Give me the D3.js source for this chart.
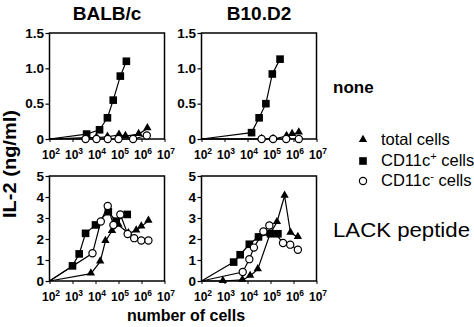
<!DOCTYPE html>
<html><head><meta charset="utf-8">
<script src="https://cdn.jsdelivr.net/npm/d3@7"></script>
<style>body{margin:0;background:#fff}svg{display:block}text{font-family:"Liberation Sans",Arial,sans-serif;fill:#000}</style>
</head><body>
<script>
// ---- data ----
const strains = ["BALB/c", "B10.D2"];
const conditions = ["none", "LACK peptide"];
const xTickExponents = [2, 3, 4, 5, 6, 7];
const topYTicks = [0, 0.5, 1.0, 1.5];
const topYTickLabels = ["0", "0.5", "1.0", "1.5"];
const bottomYTicks = [0, 1, 2, 3, 4, 5];
const bottomYTickLabels = ["0", "1", "2", "3", "4", "5"];
const seriesNames = ["total cells", "CD11c+ cells", "CD11c- cells"];

// [number of cells, IL-2 ng/ml]
const balbNoneTotal = [[100,0],[4e3,0.02],[1.1e4,0.02],[3.3e4,0.03],[1.05e5,0.06],[2e5,0.04],[7.5e5,0.07],[1.8e6,0.15]];
const balbNoneCD11cPos = [[100,0],[4.1e3,0.07],[1.5e4,0.13],[3.3e4,0.3],[5.9e4,0.55],[1.2e5,0.89],[2.2e5,1.1]];
const balbNoneCD11cNeg = [[100,0],[3.7e3,0],[1.1e4,0],[3.4e4,0],[1e5,0],[4.3e5,0],[1.7e6,0.05]];

const b10NoneTotal = [[100,0],[4.1e4,0],[1.3e5,0],[5e5,0.04],[8.7e5,0.07],[1.7e6,0.09]];
const b10NoneCD11cPos = [[100,0],[1.5e4,0.09],[3.2e4,0.3],[6.3e4,0.5],[1.2e5,0.92],[2.6e5,1.13]];
const b10NoneCD11cNeg = [[100,0],[4.1e4,0],[1.3e5,0],[4.8e5,0],[1.7e6,0]];

const balbLackTotal = [[100,0],[6.3e3,0.35],[1.6e4,0.92],[2.7e4,1.9],[5.2e4,2.38],[1e5,2.67],[2.7e5,2.27],[5.9e5,2.4],[9.8e5,2.59],[2e6,2.87]];
const balbLackCD11cPos = [[100,0],[1e3,0.72],[1.95e3,1.29],[3.7e3,2.27],[1e4,2.67],[3.6e4,3.3],[7.9e4,2.85],[2.4e5,3.17]];
const balbLackCD11cNeg = [[100,0],[7.4e3,1.32],[1.7e4,2.83],[3.4e4,3.57],[6e4,2.67],[1.2e5,3.17],[2.5e5,2.24],[4.8e5,2.04],[9.8e5,1.93],[2e6,1.93]];

const b10LackTotal = [[100,0],[8.5e2,0],[6e3,0.05],[1.3e4,0.24],[2.8e4,0.56],[9.5e4,2.24],[1.9e5,2.8],[4.1e5,4.06],[7.4e5,2.29],[1.55e6,2.09]];
const b10LackCD11cPos = [[100,0],[2.5e3,0.9],[4.8e3,1.25],[1.2e4,1.75],[3e4,2.1],[1e5,2.25],[2.1e5,2.25]];
const b10LackCD11cNeg = [[100,0],[6.2e3,0.43],[1.2e4,1.04],[1.9e4,1.59],[4.9e4,2.36],[8.9e4,2.64],[3.5e5,1.81],[7.2e5,1.73],[1.55e6,1.49]];

// ---- layout ----
const W = 474, H = 327;
const colX = [49.5, 201.5], panelW = 115;
const rowTop = [33, 176], rowBottom = [139, 281];

const panels = [
  {col:0,row:0,ymax:1.5,ticks:topYTicks,labels:topYTickLabels,series:[balbNoneTotal,balbNoneCD11cPos,balbNoneCD11cNeg]},
  {col:1,row:0,ymax:1.5,ticks:topYTicks,labels:topYTickLabels,series:[b10NoneTotal,b10NoneCD11cPos,b10NoneCD11cNeg]},
  {col:0,row:1,ymax:5,ticks:bottomYTicks,labels:bottomYTickLabels,series:[balbLackTotal,balbLackCD11cPos,balbLackCD11cNeg]},
  {col:1,row:1,ymax:5,ticks:bottomYTicks,labels:bottomYTickLabels,series:[b10LackTotal,b10LackCD11cPos,b10LackCD11cNeg]}
];

const svg = d3.select("body").append("svg").attr("width", W).attr("height", H);

const triSym = d3.symbol().type(d3.symbolTriangle).size(30);
const sqSym = d3.symbol().type(d3.symbolSquare).size(58);

function drawMarker(g, type, x, y) {
  if (type === 0) {
    g.append("path").attr("d", triSym()).attr("transform", `translate(${x},${y - 0.5})`).attr("fill", "#000");
  } else if (type === 1) {
    g.append("path").attr("d", sqSym()).attr("transform", `translate(${x},${y})`).attr("fill", "#000");
  } else {
    g.append("circle").attr("cx", x).attr("cy", y).attr("r", 3.6)
      .attr("fill", "#fff").attr("stroke", "#000").attr("stroke-width", 1.2);
  }
}

panels.forEach(p => {
  const x0 = colX[p.col], x1 = x0 + panelW;
  const y0 = rowTop[p.row], y1 = rowBottom[p.row];
  const x = d3.scaleLog().domain([1e2, 1e7]).range([x0, x1]);
  const y = d3.scaleLinear().domain([0, p.ymax]).range([y1, y0]);
  const g = svg.append("g");

  // y axis
  const yAxis = d3.axisLeft(y).tickValues(p.ticks).tickFormat((d, i) => p.labels[i]).tickSize(4).tickPadding(1.5);
  const ya = g.append("g").attr("transform", `translate(${x0},0)`).call(yAxis);
  ya.select(".domain").remove();
  ya.selectAll("line").attr("stroke", "#000").attr("stroke-width", 1.2);
  ya.selectAll("text").attr("font-size", 13.5).attr("font-weight", "bold").attr("font-family", '"Liberation Sans", Arial, sans-serif');

  // x axis
  const xAxis = d3.axisBottom(x).tickValues(xTickExponents.map(e => Math.pow(10, e))).tickFormat("").tickSize(3);
  const xa = g.append("g").attr("transform", `translate(0,${y1})`).call(xAxis);
  xa.select(".domain").remove();
  xa.selectAll("line").attr("stroke", "#000").attr("stroke-width", 1);
  xTickExponents.forEach(e => {
    const t = g.append("text").attr("x", x(Math.pow(10, e)) + 1.5).attr("y", y1 + 20)
      .attr("text-anchor", "middle").attr("font-weight", "bold").attr("font-size", 12);
    t.append("tspan").text("10");
    t.append("tspan").attr("font-size", 8.5).attr("dy", -5).text(String(e));
  });

  // frame
  g.append("rect").attr("x", x0).attr("y", y0).attr("width", x1 - x0).attr("height", y1 - y0)
    .attr("fill", "none").attr("stroke", "#000").attr("stroke-width", 1.5);

  // lines
  const line = d3.line().x(d => x(d[0])).y(d => y(d[1]));
  p.series.forEach(s => {
    g.append("path").attr("d", line(s)).attr("fill", "none").attr("stroke", "#000").attr("stroke-width", 1.2);
  });
  // markers (skip the origin point)
  p.series.forEach((s, si) => {
    s.slice(1).forEach(d => drawMarker(g, si, x(d[0]), y(d[1])));
  });
});

// column titles
strains.forEach((s, i) => {
  svg.append("text").attr("x", colX[i] + panelW / 2).attr("y", 20).attr("text-anchor", "middle")
    .attr("font-weight", "bold").attr("font-size", 19).text(s);
});

// row labels
svg.append("text").attr("x", 333).attr("y", 93).attr("font-weight", "bold").attr("font-size", 17).text(conditions[0]);
svg.append("text").attr("x", 333).attr("y", 237).attr("font-size", 20)
  .attr("textLength", 137).attr("lengthAdjust", "spacingAndGlyphs").text(conditions[1]);

// y label
svg.append("text").attr("transform", "translate(16,164) rotate(-90)").attr("text-anchor", "middle")
  .attr("font-weight", "bold").attr("font-size", 18).attr("textLength", 108).attr("lengthAdjust", "spacingAndGlyphs")
  .text("IL-2 (ng/ml)");

// x label
svg.append("text").attr("x", 186).attr("y", 321).attr("text-anchor", "middle")
  .attr("font-weight", "bold").attr("font-size", 16).text("number of cells");

// legend
const legY = [145, 166, 186];
const lg = svg.append("g");
seriesNames.forEach((name, i) => {
  drawMarker(lg, i, 363, legY[i] - 5);
  const t = lg.append("text").attr("x", 381).attr("y", legY[i]).attr("font-size", 16.5);
  if (i === 0) {
    t.text(name);
  } else {
    const parts = name.split(" ");
    const base = parts[0].slice(0, -1), sup = parts[0].slice(-1);
    t.append("tspan").text(base);
    t.append("tspan").attr("font-size", 11).attr("dy", -6).text(sup === "-" ? "-" : "+");
    t.append("tspan").attr("dy", 6).text(" " + parts[1]);
  }
});
</script>
</body></html>
